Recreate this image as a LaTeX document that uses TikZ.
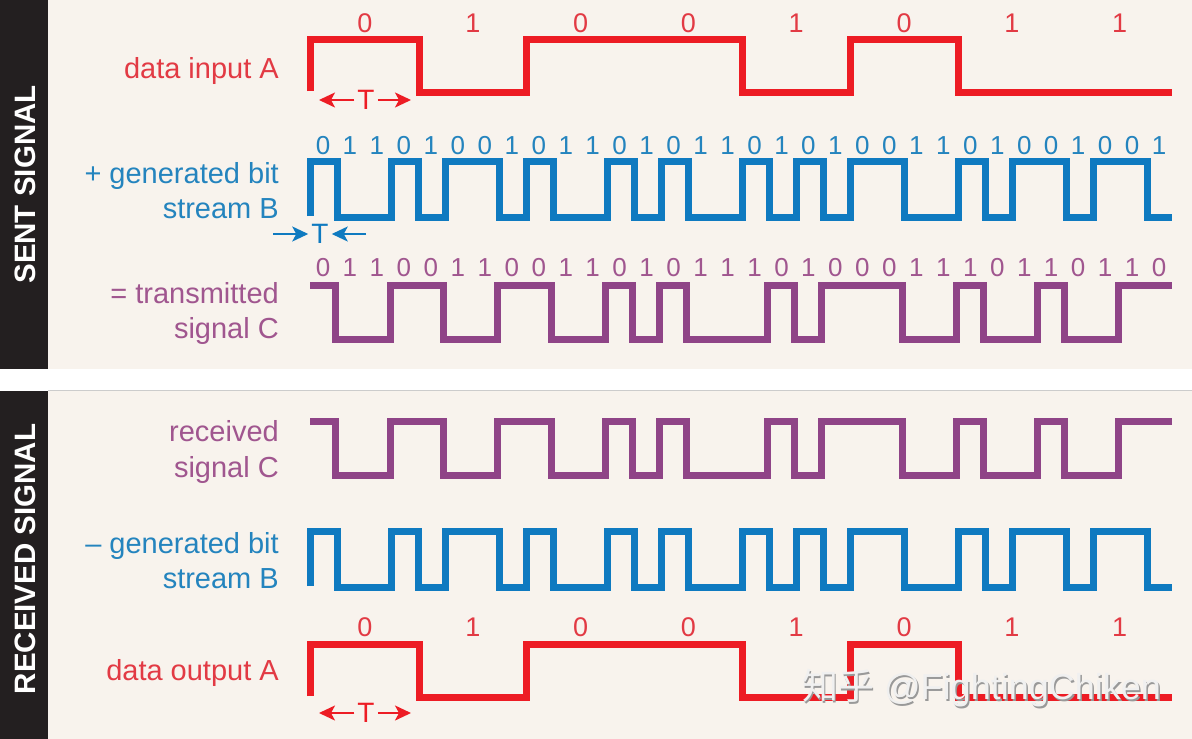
\documentclass[tikz,border=0pt]{standalone}
\usepackage{fontspec}
\setmainfont{Liberation Sans}
\newfontfamily\cjk{Noto Sans CJK SC}
\usetikzlibrary{arrows.meta}

\definecolor{barblack}{HTML}{231F20}
\definecolor{panelcream}{HTML}{F8F3ED}
\definecolor{sigred}{HTML}{ED1C24}
\definecolor{sigblue}{HTML}{0F7AC0}
\definecolor{sigpurple}{HTML}{8F4487}
\definecolor{txtred}{HTML}{E23A44}
\definecolor{txtblue}{HTML}{2484BE}
\definecolor{txtpurple}{HTML}{A0568F}

\tikzset{
  wave/.style={line width=7pt},
  sidetitle/.style={text=white,font=\bfseries\fontsize{29.5}{30}\selectfont,rotate=90,anchor=base,inner sep=0pt},
  siglabel/.style={anchor=base east,inner sep=0pt,font=\fontsize{29}{30}\selectfont},
  bigbit/.style={font=\fontsize{27}{27}\selectfont},
  smallbit/.style={font=\fontsize{26}{26}\selectfont},
  tlabel/.style={font=\fontsize{28}{28}\selectfont,inner sep=3pt},
  tarrow/.style={line width=2pt,-{Stealth[length=16pt,width=15pt,inset=4pt]}},
  marktext/.style={anchor=base west,inner sep=0pt,font=\fontsize{36}{36}\selectfont},
}

% level changes of each trace, every point is the next change
\def\pathA{(310,91) |- (419,39.5) |- (526,92) |- (742,39.5) |- (850,92) |- (958,39.5) |- (1172,92)}
\def\pathB{(310,216) |- (337,161.5) |- (391,217) |- (418,161.5) |- (445,217) |- (499,161.5) |- (526,217)
  |- (553,161.5) |- (607,217) |- (634,161.5) |- (661,217) |- (688,161.5) |- (742,217) |- (769,161.5)
  |- (796,217) |- (823,161.5) |- (850,217) |- (904,161.5) |- (958,217) |- (985,161.5) |- (1012,217)
  |- (1066,161.5) |- (1093,217) |- (1147,161.5) |- (1172,217)}
\def\pathC{(310,285) -| (335,339) -| (390,285) -| (443,339) -| (497,285) -| (551,339) -| (605,285)
  -| (632,339) -| (659,285) -| (686,339) -| (767,285) -| (794,339) -| (821,285) -| (902,339) -| (956,285)
  -| (983,339) -| (1037,285) -| (1064,339) -| (1118,285) -- (1172,285)}

\begin{document}
\begin{tikzpicture}[x=1pt,y=-1pt]
  \useasboundingbox (0,0) rectangle (1192,739);

  % panels and side bars
  \fill[white] (0,0) rectangle (1192,739);
  \fill[panelcream] (48,0) rectangle (1192,369);
  \fill[panelcream] (48,391) rectangle (1192,739);
  \draw[black!20,line width=1.5pt] (48,390.5) -- (1192,390.5);
  \fill[barblack] (0,0) rectangle (48,369);
  \fill[barblack] (0,391) rectangle (48,739);
  \node[sidetitle] (senttitle) at (35.5,184.5) {SENT SIGNAL};
  \node[sidetitle] (rectitle) at (35.5,559) {RECEIVED SIGNAL};

  % traces
  \draw[wave,sigred] \pathA;
  \draw[wave,sigblue] \pathB;
  \draw[wave,sigpurple] \pathC;
  \draw[wave,sigpurple,yshift=-136pt] \pathC;
  \draw[wave,sigblue,yshift=-370pt] \pathB;
  \draw[wave,sigred,yshift=-605pt] \pathA;

  % labels left of the traces
  \node[siglabel,text=txtred] (inputlbl) at (279,78) {data input A};
  \node[siglabel,text=txtblue] (genlbl) at (279,183) {+ generated bit};
  \node[siglabel,text=txtblue] (streamlbl) at (279,218) {stream B};
  \node[siglabel,text=txtpurple] (translbl) at (279,303) {= transmitted};
  \node[siglabel,text=txtpurple] (siglbl) at (279,338) {signal C};
  \node[siglabel,text=txtpurple] (reclbl) at (279,441) {received};
  \node[siglabel,text=txtpurple] (recsiglbl) at (279,477) {signal C};
  \node[siglabel,text=txtblue] (mingenlbl) at (279,553) {-- generated bit};
  \node[siglabel,text=txtblue] (minstreamlbl) at (279,588) {stream B};
  \node[siglabel,text=txtred] (outputlbl) at (279,680) {data output A};

  % data bits above the red traces
  \foreach \b [count=\i from 0] in {0,1,0,0,1,0,1,1} {
    \node[bigbit,text=txtred] (ain\i) at (365+107.8*\i,23) {\b};
    \node[bigbit,text=txtred] (aout\i) at (365+107.8*\i,627) {\b};
  }
  % bits above stream B
  \foreach \b [count=\i from 0] in {0,1,1,0,1,0,0,1,0,1,1,0,1,0,1,1,0,1,0,1,0,0,1,1,0,1,0,0,1,0,0,1} {
    \node[smallbit,text=txtblue] (bbit\i) at (323+26.97*\i,145.5) {\b};
  }
  % bits above signal C
  \foreach \b [count=\i from 0] in {0,1,1,0,0,1,1,0,0,1,1,0,1,0,1,1,1,0,1,0,0,0,1,1,1,0,1,1,0,1,1,0} {
    \node[smallbit,text=txtpurple] (cbit\i) at (323+26.97*\i,268) {\b};
  }

  % bit times
  \node[tlabel,text=sigred] (tin) at (366,100) {T};
  \coordinate (tinl) at (319,100);
  \coordinate (tinr) at (411,100);
  \draw[tarrow,sigred] (tin) -- (tinl);
  \draw[tarrow,sigred] (tin) -- (tinr);

  \node[tlabel,text=sigblue] (tb) at (320,234) {T};
  \coordinate (tbl) at (273,234);
  \coordinate (tbr) at (366,234);
  \draw[tarrow,sigblue] (tbl) -- (tb);
  \draw[tarrow,sigblue] (tbr) -- (tb);

  \node[tlabel,text=sigred] (tout) at (366,713) {T};
  \coordinate (toutl) at (319,713);
  \coordinate (toutr) at (411,713);
  \draw[tarrow,sigred] (tout) -- (toutl);
  \draw[tarrow,sigred] (tout) -- (toutr);

  % site mark over the last trace
  \node[marktext,text=black!40] (markback) at (803.5,701) {{\cjk 知乎} @FightingChiken};
  \node[marktext,text=white!94!black] (mark) at (802,699.5) {{\cjk 知乎} @FightingChiken};
\end{tikzpicture}
\end{document}
